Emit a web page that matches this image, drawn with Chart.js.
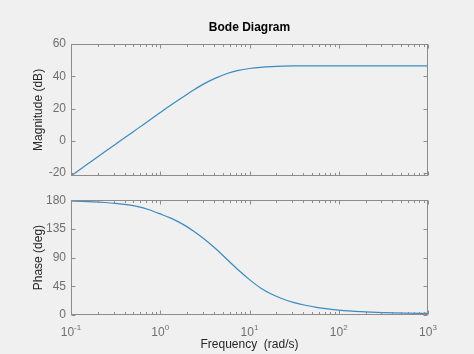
<!DOCTYPE html>
<html><head><meta charset="utf-8">
<script src="https://cdn.jsdelivr.net/npm/chart.js@4.4.0/dist/chart.umd.min.js"></script>
<style>
html,body{margin:0;padding:0;background:#f0f0f0;width:474px;height:354px;overflow:hidden}
canvas{position:absolute;left:0}
#c1{top:0}
#c2{top:188px}
</style></head><body>
<canvas id="c1" width="474" height="188"></canvas>
<canvas id="c2" width="474" height="166"></canvas>
<script>
// Frequencies (rad/s), eighth-decade sampling points
const freqs = [0.1, 0.133, 0.178, 0.237, 0.316, 0.422, 0.562, 0.75, 1, 1.33, 1.78, 2.37, 3.16, 4.22, 5.62, 7.5,
  10, 13.3, 17.8, 23.7, 31.6, 42.2, 56.2, 75, 100, 178, 316, 562, 1000];
// Magnitude (dB)
const magnitude = [-21.7, -16.8, -11.9, -7.0, -2.1, 2.8, 7.7, 12.6, 17.5, 22.3, 27.0, 31.5, 35.6, 39.0, 41.7, 43.6,
  44.8, 45.55, 46.0, 46.25, 46.4, 46.45, 46.5, 46.5, 46.5, 46.5, 46.5, 46.5, 46.5];
// Phase (deg)
const phase = [178.5, 178.1, 177.4, 176.4, 175, 173, 170, 165, 158.5, 151.5, 142.5, 131.5, 118.5, 103.5, 87, 70.5,
  55.5, 42.5, 32.5, 25, 19.5, 15.3, 12, 9.5, 7.6, 5.2, 3.8, 3, 2.5];
// Tick labels
const magTicks = [-20, 0, 20, 40, 60];
const phaseTicks = [0, 45, 90, 135, 180];
const decadeExps = [-1, 0, 1, 2, 3];

const FONT = "'Liberation Sans', Arial, Helvetica, sans-serif";
const LINE = '#3a8bc4';
const AXIS = '#8c8c8c';
const TICKTXT = '#6f6f6f';

const framePlugin = {
  id: 'frame',
  afterDraw(chart, args, opts) {
    const { ctx, chartArea: a, scales } = chart;
    const x = scales.x, y = scales.y;
    ctx.save();
    ctx.strokeStyle = AXIS;
    ctx.lineWidth = 1;
    const L = Math.round(a.left) + 0.5, R = Math.round(a.right) - 0.5;
    const T = Math.round(a.top) + 0.5, B = Math.round(a.bottom) - 0.5;
    ctx.strokeRect(L, T, R - L, B - T);
    ctx.beginPath();
    decadeExps.forEach(e => {
      for (let k = 1; k <= 9; k++) {
        const v = k * Math.pow(10, e);
        if (v > 1000.0001) break;
        const px = Math.round(x.getPixelForValue(v)) + 0.5;
        const len = k === 1 ? 4 : 2.5;
        ctx.moveTo(px, B); ctx.lineTo(px, B - len);
        ctx.moveTo(px, T); ctx.lineTo(px, T + len);
      }
    });
    opts.yticks.forEach(v => {
      const py = Math.round(y.getPixelForValue(v)) + 0.5;
      ctx.moveTo(L, py); ctx.lineTo(L + 4, py);
      ctx.moveTo(R, py); ctx.lineTo(R - 4, py);
    });
    ctx.stroke();
    // y axis label
    ctx.fillStyle = '#262626';
    ctx.font = '12px ' + FONT;
    ctx.textAlign = 'center';
    ctx.textBaseline = 'middle';
    ctx.save();
    ctx.translate(39, (a.top + a.bottom) / 2);
    ctx.rotate(-Math.PI / 2);
    ctx.fillText(opts.ylabel, 0, 0);
    ctx.restore();
    if (opts.title) {
      ctx.fillStyle = '#000';
      ctx.font = 'bold 12px ' + FONT;
      ctx.fillText(opts.title, (a.left + a.right) / 2, 27.5);
    }
    if (opts.xlabels) {
      ctx.fillStyle = TICKTXT;
      ctx.textAlign = 'left';
      ctx.textBaseline = 'alphabetic';
      decadeExps.forEach(e => {
        const px = x.getPixelForValue(Math.pow(10, e));
        ctx.font = '12px ' + FONT;
        const w1 = ctx.measureText('10').width;
        ctx.font = '8px ' + FONT;
        const es = String(e);
        const w2 = ctx.measureText(es).width;
        const sx = px - (w1 + w2) / 2;
        ctx.font = '12px ' + FONT;
        ctx.fillText('10', sx, a.bottom + 21);
        ctx.font = '8px ' + FONT;
        ctx.fillText(es, sx + w1, a.bottom + 15);
      });
      ctx.fillStyle = '#262626';
      ctx.font = '12px ' + FONT;
      ctx.textAlign = 'center';
      ctx.textBaseline = 'middle';
      ctx.fillText('Frequency  (rad/s)', (a.left + a.right) / 2, a.bottom + 30);
    }
    ctx.restore();
  }
};

function makeChart(id, values, ymin, ymax, yticks, padding, frameOpts) {
  return new Chart(document.getElementById(id), {
    type: 'line',
    data: {
      datasets: [{
        data: freqs.map((f, i) => ({ x: f, y: values[i] })),
        borderColor: LINE,
        borderWidth: 1.2,
        pointRadius: 0,
        cubicInterpolationMode: 'monotone',
        fill: false
      }]
    },
    options: {
      responsive: false,
      devicePixelRatio: 1,
      animation: false,
      layout: { padding },
      plugins: { legend: { display: false }, tooltip: { enabled: false }, frame: frameOpts },
      scales: {
        x: { type: 'logarithmic', min: 0.1, max: 1000, display: false },
        y: {
          min: ymin, max: ymax,
          afterFit: s => { s.width = 71; },
          afterBuildTicks: s => { s.ticks = yticks.map(v => ({ value: v })); },
          grid: { display: false, drawTicks: false },
          border: { display: false },
          ticks: { padding: 5, color: TICKTXT, font: { family: FONT, size: 12 } }
        }
      }
    },
    plugins: [framePlugin]
  });
}

makeChart('c1', magnitude, -21.7, 60, magTicks,
  { top: 44, bottom: 7, left: 0, right: 46 },
  { yticks: magTicks, ylabel: 'Magnitude (dB)', title: 'Bode Diagram' });
makeChart('c2', phase, 0, 180, phaseTicks,
  { top: 6, bottom: 39, left: 0, right: 46 },
  { yticks: phaseTicks, ylabel: 'Phase (deg)', xlabels: true });
</script>
</body></html>
